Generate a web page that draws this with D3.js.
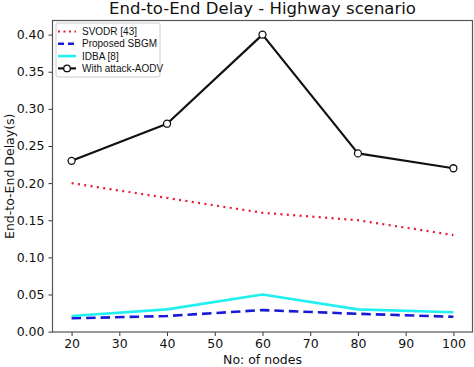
<!DOCTYPE html>
<html><head><meta charset="utf-8">
<script src="https://cdn.jsdelivr.net/npm/d3@7"></script>
<style>body{margin:0;background:#fff}svg{display:block}text{font-family:"DejaVu Sans",sans-serif}</style>
</head><body>
<svg id="c" width="474" height="367"></svg>
<script>
const nodes = [20, 40, 60, 80, 100];
const svodr = [0.20, 0.18, 0.16, 0.15, 0.13];
const proposed = [0.018, 0.021, 0.029, 0.024, 0.020];
const idba = [0.021, 0.030, 0.050, 0.030, 0.026];
const attack = [0.23, 0.28, 0.40, 0.24, 0.22];
const xTicks = [20, 30, 40, 50, 60, 70, 80, 90, 100];
const yTicks = [0.00, 0.05, 0.10, 0.15, 0.20, 0.25, 0.30, 0.35, 0.40];
const seriesNames = ["SVODR [43]", "Proposed SBGM", "IDBA [8]", "With attack-AODV"];

const svg = d3.select("#c");
const L = 52.5, R = 472.5, T = 20.5, B = 332;
const x = d3.scaleLinear().domain([16, 104]).range([L, R]);
const y = d3.scaleLinear().domain([-0.0005, 0.419]).range([B, T]);

svg.append("text").attr("x", (L + R) / 2).attr("y", 13.5).attr("text-anchor", "middle")
  .attr("font-size", 16.5).attr("fill", "#111").text("End-to-End Delay - Highway scenario");

const gx = svg.append("g").attr("transform", `translate(0,${B})`)
  .call(d3.axisBottom(x).tickValues(xTicks).tickSize(4).tickPadding(3).tickFormat(d3.format("d")));
const gy = svg.append("g").attr("transform", `translate(${L},0)`)
  .call(d3.axisLeft(y).tickValues(yTicks).tickSize(4).tickPadding(4).tickFormat(d3.format(".2f")));
[gx, gy].forEach(g => {
  g.select(".domain").remove();
  g.selectAll("text").attr("font-size", 12.5).attr("fill", "#111").style("font-family", '"DejaVu Sans",sans-serif');
  g.selectAll("line").attr("stroke", "#333");
});
svg.append("rect").attr("x", L).attr("y", T).attr("width", R - L).attr("height", B - T)
  .attr("fill", "none").attr("stroke", "#555").attr("stroke-width", 1.2);

svg.append("text").attr("x", (L + R) / 2).attr("y", 364).attr("text-anchor", "middle")
  .attr("font-size", 12.5).attr("fill", "#111").text("No: of nodes");
svg.append("text").attr("transform", `translate(10,${(T + B) / 2}) rotate(-90)`)
  .attr("text-anchor", "middle").attr("dy", "0.35em").attr("font-size", 12.5).attr("fill", "#111")
  .text("End-to-End Delay(s)");

const line = d3.line().x((d, i) => x(nodes[i])).y(d => y(d));
const styles = [
  {data: svodr, color: "#e8192c", w: 2.2, dash: "2,4.4", cap: "butt"},
  {data: proposed, color: "#1a1ad6", w: 2.6, dash: "9.5,5", cap: "butt"},
  {data: idba, color: "#22f0f0", w: 2.6, dash: null, cap: "butt"},
  {data: attack, color: "#111", w: 2.2, dash: null, cap: "butt"}
];
styles.forEach(s => {
  svg.append("path").datum(s.data).attr("d", line).attr("fill", "none")
    .attr("stroke", s.color).attr("stroke-width", s.w).attr("stroke-dasharray", s.dash)
    .attr("stroke-linecap", s.cap).attr("stroke-linejoin", "round");
});
svg.selectAll("circle.m").data(attack).join("circle").attr("class", "m")
  .attr("cx", (d, i) => x(nodes[i])).attr("cy", d => y(d)).attr("r", 3.5)
  .attr("fill", "#fff").attr("stroke", "#111").attr("stroke-width", 1.3);

// legend
const lg = svg.append("g").attr("transform", "translate(56,23)");
lg.append("rect").attr("width", 104).attr("height", 54).attr("rx", 2).attr("fill", "#fff")
  .attr("stroke", "#ccc").attr("stroke-width", 1);
styles.forEach((s, i) => {
  const yy = 8.5 + i * 12.3;
  lg.append("line").attr("x1", 2).attr("x2", 20).attr("y1", yy).attr("y2", yy)
    .attr("stroke", s.color).attr("stroke-width", s.w).attr("stroke-dasharray", i === 0 ? "2,3.5" : (i === 1 ? "6,4" : null))
    .attr("stroke-linecap", s.cap);
  if (i === 3) lg.append("circle").attr("cx", 11).attr("cy", yy).attr("r", 3.3)
    .attr("fill", "#fff").attr("stroke", "#111").attr("stroke-width", 1.3);
  lg.append("text").attr("x", 26).attr("y", yy).attr("dy", "0.35em").attr("font-size", 10)
    .attr("fill", "#111").style("font-family", '"Liberation Sans",Arial,sans-serif').text(seriesNames[i]);
});
</script>
</body></html>
